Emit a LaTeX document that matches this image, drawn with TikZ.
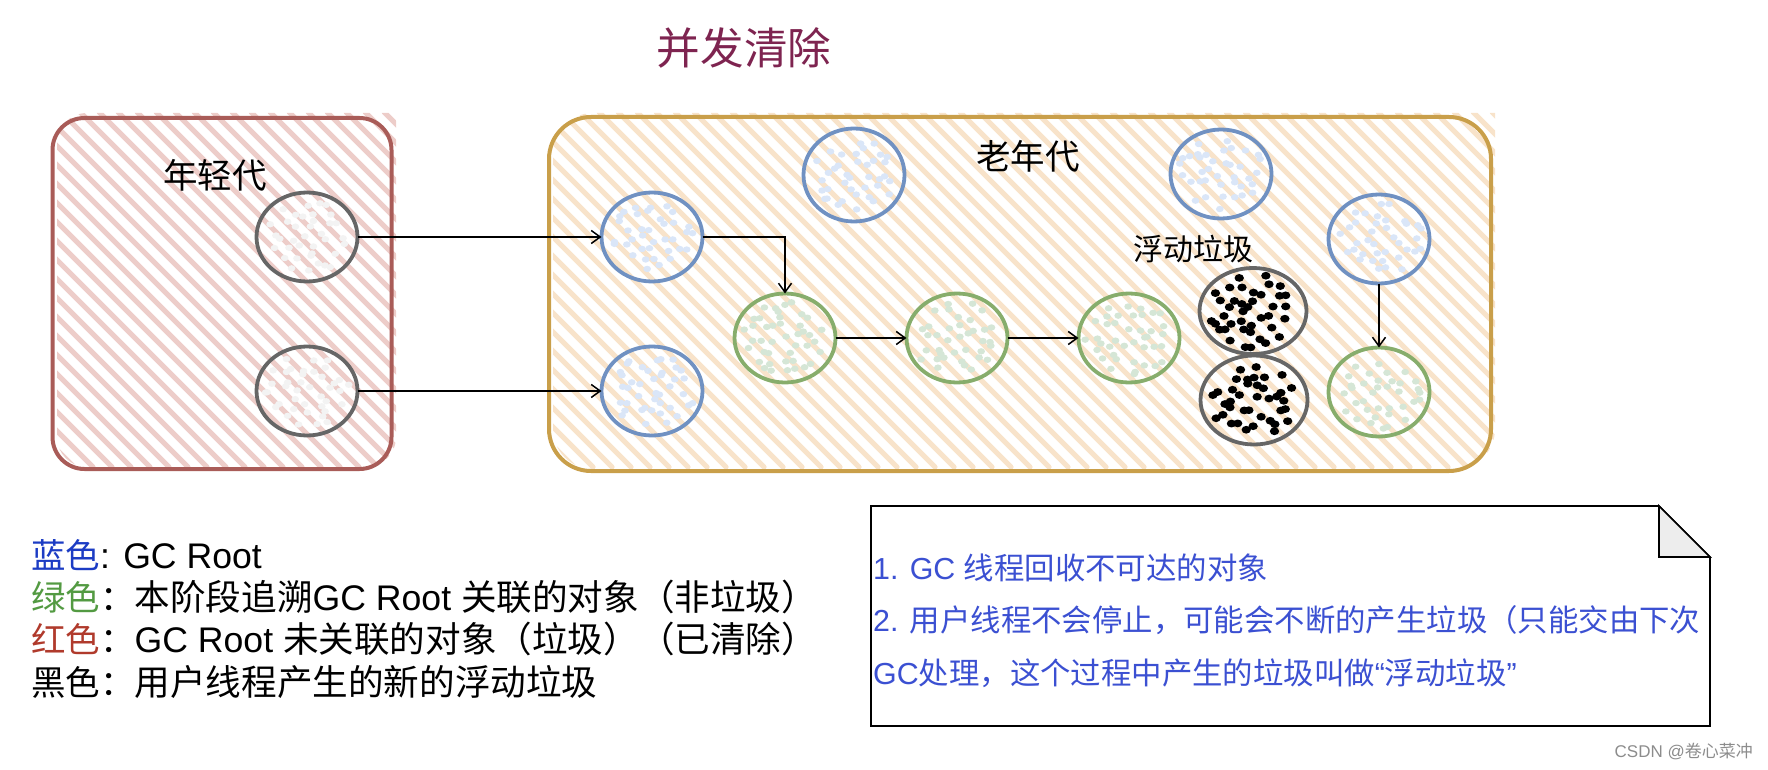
\documentclass[tikz,border=0pt]{standalone}
\usepackage{fontspec}
\setmainfont{Liberation Sans}
\newfontfamily\zh{Noto Sans CJK SC}
\usetikzlibrary{shapes.geometric, arrows.meta}

\definecolor{youngline}{HTML}{A95C58}
\definecolor{younghatch}{HTML}{EDCDC9}
\definecolor{oldline}{HTML}{C99F4A}
\definecolor{oldhatch}{HTML}{F8E3CA}
\definecolor{rootline}{HTML}{7091C2}
\definecolor{rootdot}{HTML}{DAE6F8}
\definecolor{liveline}{HTML}{87AD6C}
\definecolor{livedot}{HTML}{D5E6D6}
\definecolor{grayline}{HTML}{666666}
\definecolor{graydot}{HTML}{F3F3F3}
\definecolor{titlecol}{HTML}{7E2450}
\definecolor{notecol}{HTML}{3B50D2}

% pale or black blobs on a jittered grid inside an object
\newcommand{\blobs}[2]{%
  \foreach \ii in {-4,...,4}{
    \foreach \jj in {-3,...,3}{
      \pgfmathsetmacro\dx{11.5*\ii+5.5*rand}
      \pgfmathsetmacro\dy{11.5*\jj+5.5*rand}
      \pgfmathsetmacro\dturn{180*rnd}
      \pgfmathtruncatemacro\keep{(\dx/44)^2+(\dy/37)^2<1 ? 1 : 0}
      \ifnum\keep=1
        \path (path picture bounding box.center) ++(\dx pt,\dy pt) coordinate (blob);
        \fill[#1, rotate around={\dturn:(blob)}] (blob) ellipse ({#2*1.2pt} and {#2*1pt});
      \fi
    }
  }
}
\newcommand{\tagtext}[2]{{\zh\fontsize{34.5}{40}\selectfont\textcolor[HTML]{#1}{#2}}}

\tikzset{
  box/.style={draw, line width=4pt, inner sep=0pt},
  hatchline/.style={line width=5.2pt, line cap=round},
  obj/.style={ellipse, draw, line width=3.8pt, inner sep=0pt, outer sep=0pt,
    minimum width=101pt, minimum height=89pt},
  rootobj/.style={obj, draw=rootline, path picture={\blobs{rootdot}{3.2}}},
  liveobj/.style={obj, draw=liveline, path picture={\blobs{livedot}{3.2}}},
  youngobj/.style={obj, draw=grayline, path picture={\blobs{graydot}{3.2}}},
  floatobj/.style={obj, draw=grayline, minimum width=107pt,
    path picture={\blobs{black}{3.9}}},
  link/.style={line width=1.5pt, -{Straight Barb[length=9pt,width=13pt]}},
  label/.style={font=\zh\fontsize{34.5}{40}\selectfont, inner sep=0pt},
  legend/.style={anchor=base west, inner sep=0pt, font=\fontsize{35.6}{40}\selectfont},
  noteline/.style={anchor=base west, inner sep=0pt, text=notecol, font=\fontsize{30.4}{36}\selectfont},
}

\begin{document}
\begin{tikzpicture}[x=1pt, y=-1pt]
  \useasboundingbox (0,0) rectangle (1768,770);
  \pgfmathsetseed{11}

  % Hatching of the two areas
  \begin{scope}
    \clip (57,300) [rounded corners=30pt] -- (57,113) [sharp corners] -- (396,113) -- (396,300)
      [rounded corners=30pt] -- (396,467) -- (57,467) -- cycle;
    \foreach \k in {0,...,38}
      \draw[hatchline, younghatch] ({-300+19*\k},112) -- ++(355,355);
  \end{scope}
  \begin{scope}
    \clip (553,300) [rounded corners=40pt] -- (553,113) [sharp corners] -- (1495,113) -- (1495,300)
      [rounded corners=40pt] -- (1495,469) -- (553,469) -- cycle;
    \foreach \k in {0,...,70}
      \draw[hatchline, oldhatch] ({200+19*\k},112) -- ++(355,355);
  \end{scope}

  % Areas
  \node[box, draw=youngline, rounded corners=32pt, minimum width=339pt, minimum height=351pt] (young) at (222,293.5) {};
  \node[box, draw=oldline, rounded corners=42pt, minimum width=942pt, minimum height=354pt] (old) at (1020,294) {};

  % Title and labels
  \node[font=\zh\fontsize{43.6}{50}\selectfont, text=titlecol, inner sep=0pt] (title) at (744,48) {并发清除};
  \node[label] (younglabel) at (215,175) {年轻代};
  \node[label] (oldlabel) at (1028,156) {老年代};
  \node[label, font=\zh\fontsize{30}{36}\selectfont] (floatlabel) at (1193,249) {浮动垃圾};

  % Objects
  \node[youngobj] (y1) at (307,237) {};
  \node[youngobj] (y2) at (307,391) {};
  \node[rootobj] (r1) at (652,237) {};
  \node[rootobj] (r2) at (652,391) {};
  \node[rootobj, minimum height=93pt] (r3) at (854,175) {};
  \node[rootobj] (r4) at (1221,174) {};
  \node[rootobj] (r5) at (1379,239) {};
  \node[liveobj] (g1) at (785,338) {};
  \node[liveobj] (g2) at (957,338) {};
  \node[liveobj] (g3) at (1129,338) {};
  \node[liveobj] (g4) at (1379,392) {};
  \node[floatobj, minimum height=86pt] (f1) at (1253,311) {};
  \node[floatobj] (f2) at (1254,400) {};

  % Connections
  \draw[link] (y1) -- (r1);
  \draw[link] (y2) -- (r2);
  \draw[link] (r1) -| (g1);
  \draw[link] (g1) -- (g2);
  \draw[link] (g2) -- (g3);
  \draw[link] (r5) -- (g4);

  % Legend
  \node[legend] (l1) at (31,568) {\tagtext{1C3CC4}{蓝色}: GC Root};
  \node[legend] (l2) at (31,610) {\tagtext{539A42}{绿色}\tagtext{000000}{：}{\zh 本阶段追溯}GC Root {\zh 关联的对象（非垃圾）}};
  \node[legend] (l3) at (31,652) {\tagtext{B03A2C}{红色}\tagtext{000000}{：}GC Root {\zh 未关联的对象（垃圾）（已清除）}};
  \node[legend] (l4) at (31,695) {\tagtext{000000}{黑色：}{\zh 用户线程产生的新的浮动垃圾}};

  % Note
  \draw[line width=1.6pt, fill=white] (871,506) -- (1659,506) -- (1710,557) -- (1710,726) -- (871,726) -- cycle;
  \draw[line width=1.6pt, fill=black!7] (1659,506) -- (1710,557) -- (1659,557) -- cycle;
  \node[noteline] (n1) at (873,579) {1. GC {\zh 线程回收不可达的对象}};
  \node[noteline] (n2) at (873,631) {2. {\zh 用户线程不会停止，可能会不断的产生垃圾（只能交由下次}};
  \node[noteline] (n3) at (873,684) {GC{\zh 处理，这个过程中产生的垃圾叫做}“{\zh 浮动垃圾}”};

  % Watermark
  \node[anchor=east, inner sep=0pt, text=black!45, font=\fontsize{17}{20}\selectfont] (mark) at (1753,752) {CSDN @{\zh 卷心菜冲}};
\end{tikzpicture}
\end{document}
